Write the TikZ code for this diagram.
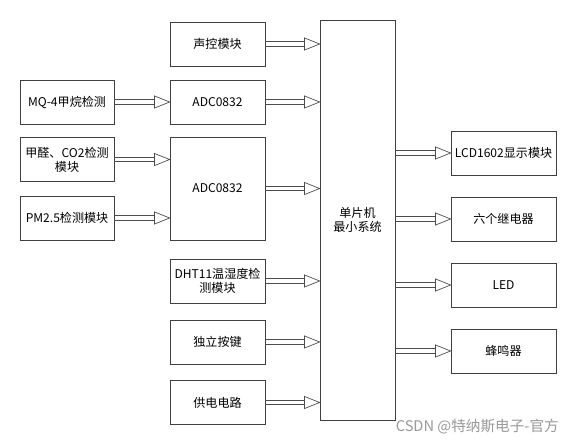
\documentclass[tikz,border=0pt]{standalone}
\usepackage{fontspec}
\setmainfont{Noto Sans CJK SC}

% hollow bus arrow: #1 start, #2 tip
\newcommand\bus[2]{%
  \draw[busline] ([yshift=2pt]#1) -- ([yshift=2pt,xshift=-13pt]#2);
  \draw[busline] ([yshift=-2pt]#1) -- ([yshift=-2pt,xshift=-13pt]#2);
  \draw[bustip] (#2) -- ++(-13pt,5.2pt) -- ++(0,-10.4pt) -- cycle;}

\begin{document}
\begin{tikzpicture}[x=0.03cm,y=-0.03cm,
    box/.style={draw=black!75,line width=0.6pt,minimum width=2.85cm,
      minimum height=1.32cm,align=center,inner sep=1pt,
      font=\fontsize{10.3}{12}\selectfont},
    busline/.style={draw=black!70,line width=0.6pt},
    bustip/.style={draw=black!70,fill=white,line width=0.6pt,line join=miter}]
    \useasboundingbox (0,0) rectangle (577,445);
    % inputs
    \node[box] (sk) at (217.5,44) {声控模块};
    \node[box] (adcA) at (217.5,102) {ADC0832};
    \node[box] (adcB) at (217.5,188.5) [minimum height=3.09cm] {ADC0832};
    \node[box] (dht) at (217.5,281) {DHT11温湿度检\\测模块};
    \node[box] (key) at (217.5,342) {独立按键};
    \node[box] (pwr) at (217.5,402.5) {供电电路};
    % sensors
    \node[box] (mq) at (67,102) [minimum width=2.82cm] {MQ-4甲烷检测};
    \node[box] (hq) at (67,159.5) [minimum width=2.82cm] {甲醛、CO2检测\\模块};
    \node[box] (pm) at (67,218) [minimum width=2.82cm] {PM2.5检测模块};
    % mcu
    \node[box] (mcu) at (357.5,220) [minimum width=2.25cm,minimum height=12cm] {单片机\\最小系统};
    % outputs
    \node[box] (lcd) at (503.5,153) [minimum width=3.15cm] {LCD1602显示模块};
    \node[box] (relay) at (503.5,219) [minimum width=3.15cm] {六个继电器};
    \node[box] (led) at (503.5,285) [minimum width=3.15cm] {LED};
    \node[box] (bz) at (503.5,351) [minimum width=3.15cm] {蜂鸣器};
    % buses
    \foreach \a/\b in {sk/mcu,adcA/mcu,adcB/mcu,dht/mcu,key/mcu,pwr/mcu,mq/adcA,hq/adcB,pm/adcB}
      \bus{\a.east}{\a.east -| \b.west};
    \foreach \b in {lcd,relay,led,bz}
      \bus{mcu.east |- \b.west}{\b.west};
    \node[text=black!40,font=\fontsize{12.5}{14}\selectfont,anchor=east] (wm) at (563,427) {CSDN @特纳斯电子-官方};
  \end{tikzpicture}
\end{document}
